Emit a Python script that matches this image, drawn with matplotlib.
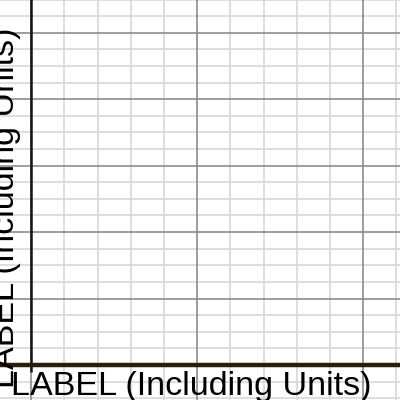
import matplotlib
matplotlib.use("Agg")
import matplotlib.pyplot as plt
import numpy as np

# Grid definition (graph-paper style chart with no data series)
x_minor = list(range(-1, 12))          # minor vertical grid lines every 1 unit
x_major = [0, 5, 10]                   # major vertical grid lines
y_minor = list(range(-2, 23))          # minor horizontal grid lines every 1 unit
y_major = [0, 4, 8, 12, 16, 20]        # major horizontal grid lines
x_label = "LABEL (Including Units)"
y_label = "LABEL (Including Units)"

fig = plt.figure(figsize=(4, 4), dpi=100)
ax = fig.add_axes([0, 0, 1, 1])
ax.set_xlim(-0.937, 11.11)
ax.set_ylim(-2.11, 21.97)

for x in x_minor:
    if x not in x_major:
        ax.axvline(x, color="#d8d8d8", lw=1.2, zorder=1)
for y in y_minor:
    if y not in y_major:
        ax.axhline(y, color="#d8d8d8", lw=1.2, zorder=1)
for x in x_major:
    ax.axvline(x, color="#8c8c8c", lw=1.2, zorder=2)
for y in y_major:
    ax.axhline(y, color="#8c8c8c", lw=1.2, zorder=2)

# axes lines
ax.plot([0, 0], [-0.45, 22.5], color="#141414", lw=1.8, zorder=3, solid_capstyle="butt")
ax.axhline(0, color="#2c1c0c", lw=3.2, zorder=4)

ax.set_xticks([])
ax.set_yticks([])
for s in ax.spines.values():
    s.set_visible(False)

font = "Liberation Sans"
fig.text(11 / 400, 5 / 400, x_label, fontsize=24.6, family=font,
         ha="left", va="baseline", color="black", zorder=5)
fig.text(14 / 400, 12 / 400, y_label, fontsize=24.6, family=font,
         rotation=90, rotation_mode="anchor", ha="left", va="baseline",
         color="black", zorder=5)

fig.savefig("out.png", dpi=100)
